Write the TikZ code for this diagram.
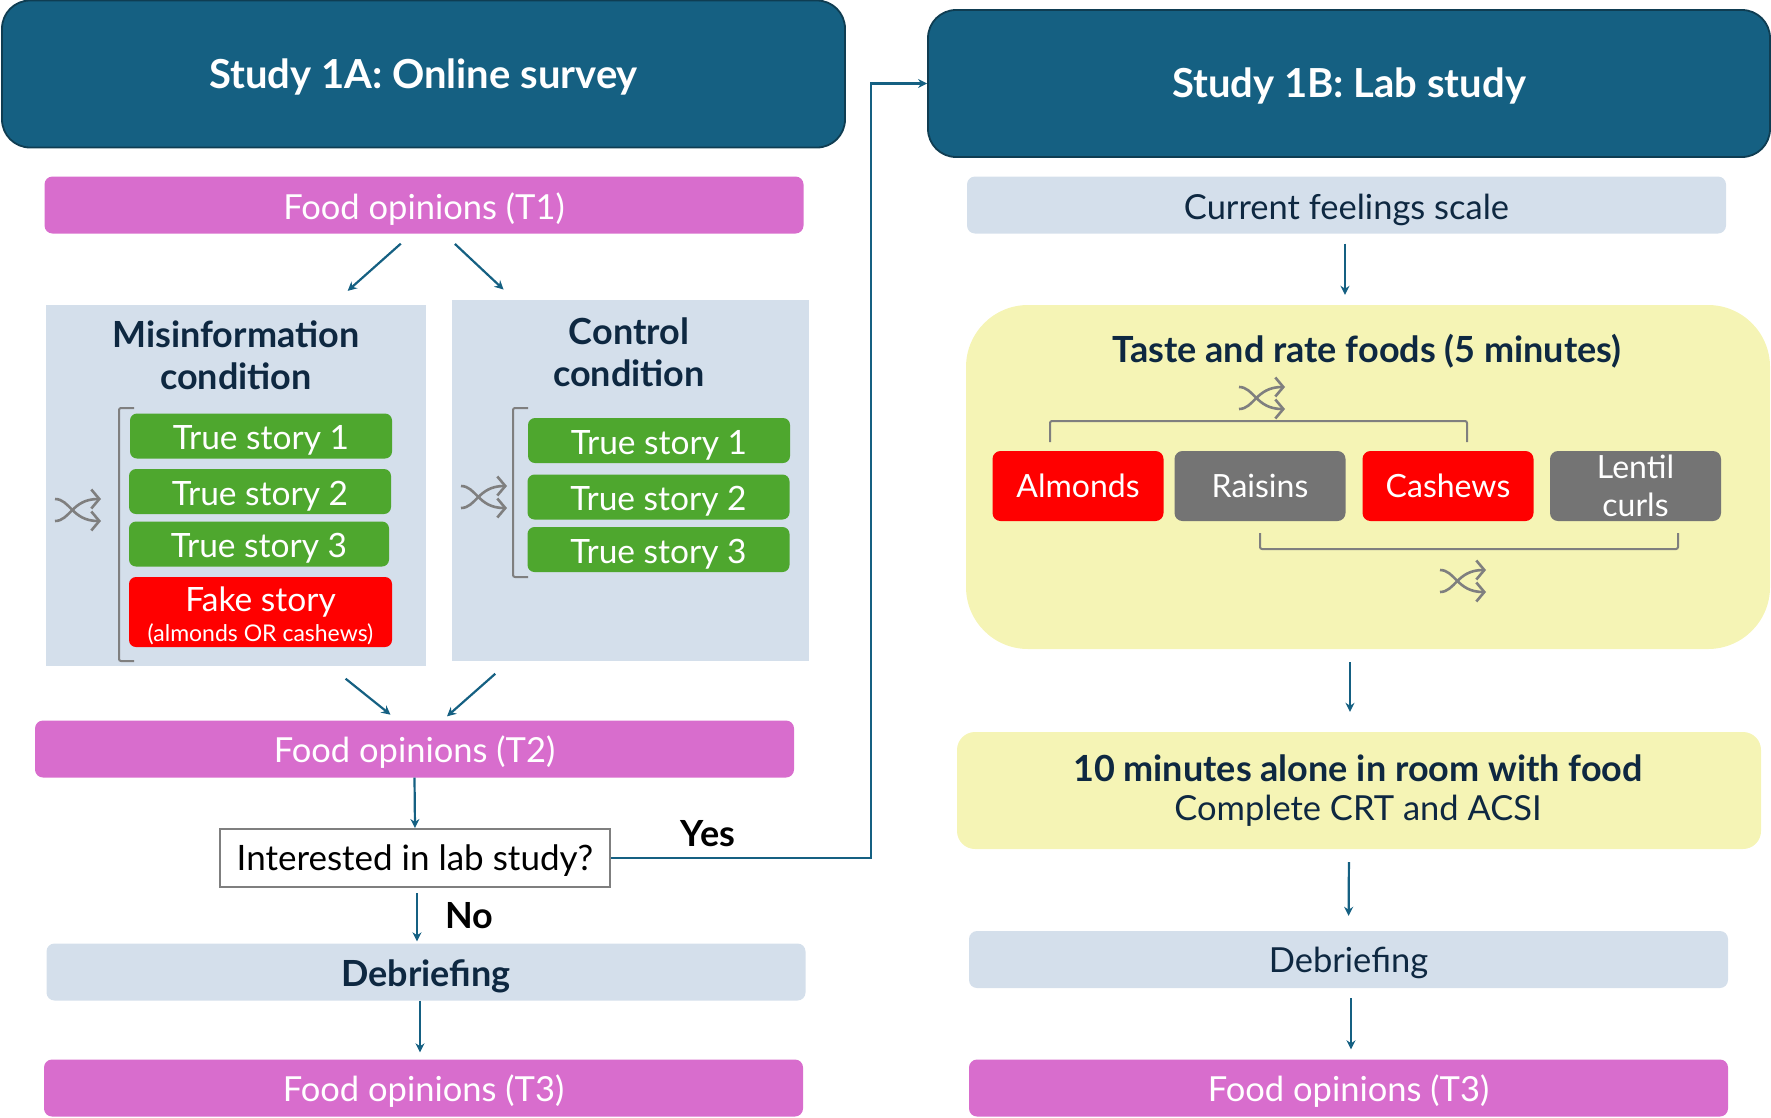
\documentclass[tikz,border=0pt]{standalone}
\usepackage{fontspec}
\setmainfont{Lato}
\usepackage{tikz}
\usetikzlibrary{arrows.meta,positioning}
\definecolor{headblue}{HTML}{156082}
\definecolor{headline}{HTML}{0F3D52}
\definecolor{inkblue}{HTML}{0E2841}
\definecolor{barpink}{HTML}{D86DCD}
\definecolor{palegrey}{HTML}{D4DFEB}
\definecolor{paleyellow}{HTML}{F5F4B5}
\definecolor{storygreen}{HTML}{4EA72E}
\definecolor{foodgrey}{HTML}{747474}
\definecolor{linegrey}{HTML}{7F7F7F}
\def\fsz#1{\fontsize{#1pt}{#1pt}\selectfont}

\begin{document}
\begin{tikzpicture}[>={Stealth[width=9pt,length=9pt]}, flow/.style={->, draw=headblue, line width=2.2pt},
	head/.style={draw=headline, line width=1.8pt, fill=headblue, rounded corners=28pt, text=white, inner sep=0pt, minimum height=147pt, minimum width=842pt, text height=28pt, text depth=0pt, font=\fsz{40}\bfseries},
	bar/.style={rounded corners=8pt, inner sep=0pt, minimum width=759pt, minimum height=57pt, text height=26pt, text depth=0pt, font=\fsz{34.5}},
	foodbar/.style={bar, fill=barpink, text=white},
	paleplain/.style={bar, fill=palegrey, text=inkblue},
	panel/.style={fill=palegrey, inner sep=0pt},
	title/.style={align=center, text=inkblue, inner sep=0pt, font=\fontsize{36pt}{42pt}\selectfont\bfseries},
	story/.style={fill=storygreen, text=white, rounded corners=7pt, inner sep=0pt, minimum width=262pt, minimum height=45pt, text height=27pt, text depth=0pt, font=\fsz{33.5}},
	food/.style={text=white, rounded corners=8pt, inner sep=0pt, minimum width=171pt, minimum height=70pt, align=center, font=\fontsize{32pt}{38pt}\selectfont},
	bracket/.style={draw=linegrey, line width=2pt, rounded corners=2pt},
	shuffleline/.style={draw=linegrey, line width=2.6pt, -{Straight Barb[length=8pt,width=19pt,line width=2.6pt]}},
	shuffleicon/.pic={
		\draw[shuffleline] (-23pt,11pt) .. controls (-8pt,11pt) and (-6pt,-11pt) .. (23pt,-11pt);
		\draw[shuffleline] (-23pt,-11pt) .. controls (-8pt,-11pt) and (-6pt,11pt) .. (23pt,11pt);
	}]
	\useasboundingbox (0pt, 0pt) rectangle (1771pt, -1117pt);
	% online survey
	\draw (423.5pt, -74.0pt)node[head, minimum width=843pt](onlinehead){Study 1A: Online survey};
	\draw (424.0pt, -205.0pt)node[foodbar, text height=28pt](foodone){Food opinions (T1)};
	\draw (236.0pt, -485.5pt)node[panel, minimum width=380pt, minimum height=361pt](misin){};
	\draw (630.5pt, -480.5pt)node[panel, minimum width=357pt, minimum height=361pt](control){};
	\draw (236.0pt, -355.0pt)node[title](misintitle){Misinformation\\condition};
	\draw (629.0pt, -352.0pt)node[title](controltitle){Control\\condition};
	\draw (261.0pt, -436.0pt)node[story](misinone){True story 1};
	\draw (260.0pt, -491.5pt)node[story](misintwo){True story 2};
	\draw (259.0pt, -544.0pt)node[story, minimum width=260pt](misinthree){True story 3};
	\draw (260.5pt, -612.0pt)node[story, fill=red, minimum width=263pt, minimum height=70pt, align=center, text height=, text depth=](fake){\rule{0pt}{32pt}Fake story\\[-3pt]{\fsz{23}(almonds OR cashews)}};
	\draw (659.0pt, -440.5pt)node[story](controlone){True story 1};
	\draw (658.5pt, -497.0pt)node[story](controltwo){True story 2};
	\draw (658.5pt, -549.5pt)node[story](controlthree){True story 3};
	\draw[bracket] (134pt, -408pt) -- (119pt, -408pt) -- (119pt, -661pt) -- (134pt, -661pt);
	\draw[bracket] (528pt, -408pt) -- (513pt, -408pt) -- (513pt, -577pt) -- (528pt, -577pt);
	\pic at (78pt, -510pt) {shuffleicon};
	\pic at (484pt, -497pt) {shuffleicon};
	\draw (414.5pt, -749.0pt)node[foodbar](foodtwo){Food opinions (T2)};
	\draw (415.0pt, -858.0pt)node[draw=linegrey, line width=2pt, fill=white, inner sep=0pt, minimum width=390pt, minimum height=58pt, text height=25pt, text depth=0pt, font=\fsz{35}](interest){Interested in lab study?};
	\draw (708.0pt, -834.0pt)node[font=\fsz{36}\bfseries, inner sep=0pt](yes){Yes};
	\draw (469.0pt, -916.0pt)node[font=\fsz{36}\bfseries, inner sep=0pt](no){No};
	\draw (426.0pt, -972.0pt)node[paleplain, text height=29pt, font=\fsz{36}\bfseries](debriefone){Debriefing};
	\draw (423.5pt, -1088.0pt)node[foodbar](foodthree){Food opinions (T3)};
	% lab study
	\draw (1349.0pt, -83.5pt)node[head](labhead){Study 1B: Lab study};
	\draw (1346.5pt, -205.0pt)node[paleplain, text height=28pt](feelings){Current feelings scale};
	\draw (1368.0pt, -477.0pt)node[fill=paleyellow, rounded corners=62pt, minimum width=804pt, minimum height=344pt](taste){};
	\draw (1367.0pt, -351.0pt)node[title](tastetitle){Taste and rate foods (5 minutes)};
	\draw (1078.0pt, -486.0pt)node[food, fill=red](almonds){Almonds};
	\draw (1260.0pt, -486.0pt)node[food, fill=foodgrey](raisins){Raisins};
	\draw (1448.0pt, -486.0pt)node[food, fill=red](cashews){Cashews};
	\draw (1635.5pt, -486.0pt)node[food, fill=foodgrey](lentil){Lentil\\curls};
	\draw[bracket] (1050pt, -442pt) -- (1050pt, -421pt) -- (1467pt, -421pt) -- (1467pt, -442pt);
	\draw[bracket] (1260pt, -533pt) -- (1260pt, -549pt) -- (1678pt, -549pt) -- (1678pt, -533pt);
	\pic at (1262pt, -398pt) {shuffleicon};
	\pic at (1463pt, -581pt) {shuffleicon};
	\draw (1359.0pt, -790.5pt)node[fill=paleyellow, rounded corners=18pt, minimum width=804pt, minimum height=117pt](room){};
	\draw (1358.0pt, -768.0pt)node[title](roomone){10 minutes alone in room with food};
	\draw (1358.0pt, -811.0pt)node[text=inkblue, inner sep=0pt, font=\fsz{34.5}](roomtwo){Complete CRT and ACSI};
	\draw (1348.5pt, -959.5pt)node[paleplain](debrieftwo){Debriefing};
	\draw (1348.5pt, -1088.0pt)node[foodbar](foodfour){Food opinions (T3)};
	% connectors
	\draw[flow, shorten <=15pt, shorten >=21pt] ([xshift=-12pt]foodone.south) -- ([xshift=96pt]misin.north);
	\draw[flow, shorten <=15pt, shorten >=15pt] ([xshift=20pt]foodone.south) -- ([xshift=-116pt]control.north);
	\draw[flow, shorten <=20pt, shorten >=9pt] ([xshift=94pt]misin.south) -- ([xshift=-17pt]foodtwo.north);
	\draw[flow, shorten <=19pt, shorten >=6pt] ([xshift=-121pt]control.south) -- ([xshift=28pt]foodtwo.north);
	\draw[flow] (foodtwo.south) -- (interest.north);
	\draw[flow, shorten <=5pt, shorten >=2pt] ([xshift=2pt]interest.south) -- ([xshift=-9pt]debriefone.north);
	\draw[flow, shorten >=7pt] ([xshift=-6pt]debriefone.south) -- ([xshift=-3.5pt]foodthree.north);
	\draw[flow] (interest.east) -| ([xshift=-56pt]labhead.west) -- (labhead.west);
	\draw[flow, shorten <=10pt, shorten >=10pt] ([xshift=-1.5pt]feelings.south) -- ([xshift=-23pt]taste.north);
	\draw[flow, shorten <=13pt, shorten >=20pt] ([xshift=-18pt]taste.south) -- ([xshift=-9pt]room.north);
	\draw[flow, shorten <=13pt, shorten >=15pt] ([xshift=-10pt]room.south) -- (debrieftwo.north);
	\draw[flow, shorten <=10pt, shorten >=10pt] ([xshift=2.5pt]debrieftwo.south) -- ([xshift=2.5pt]foodfour.north);
\end{tikzpicture}
\end{document}
